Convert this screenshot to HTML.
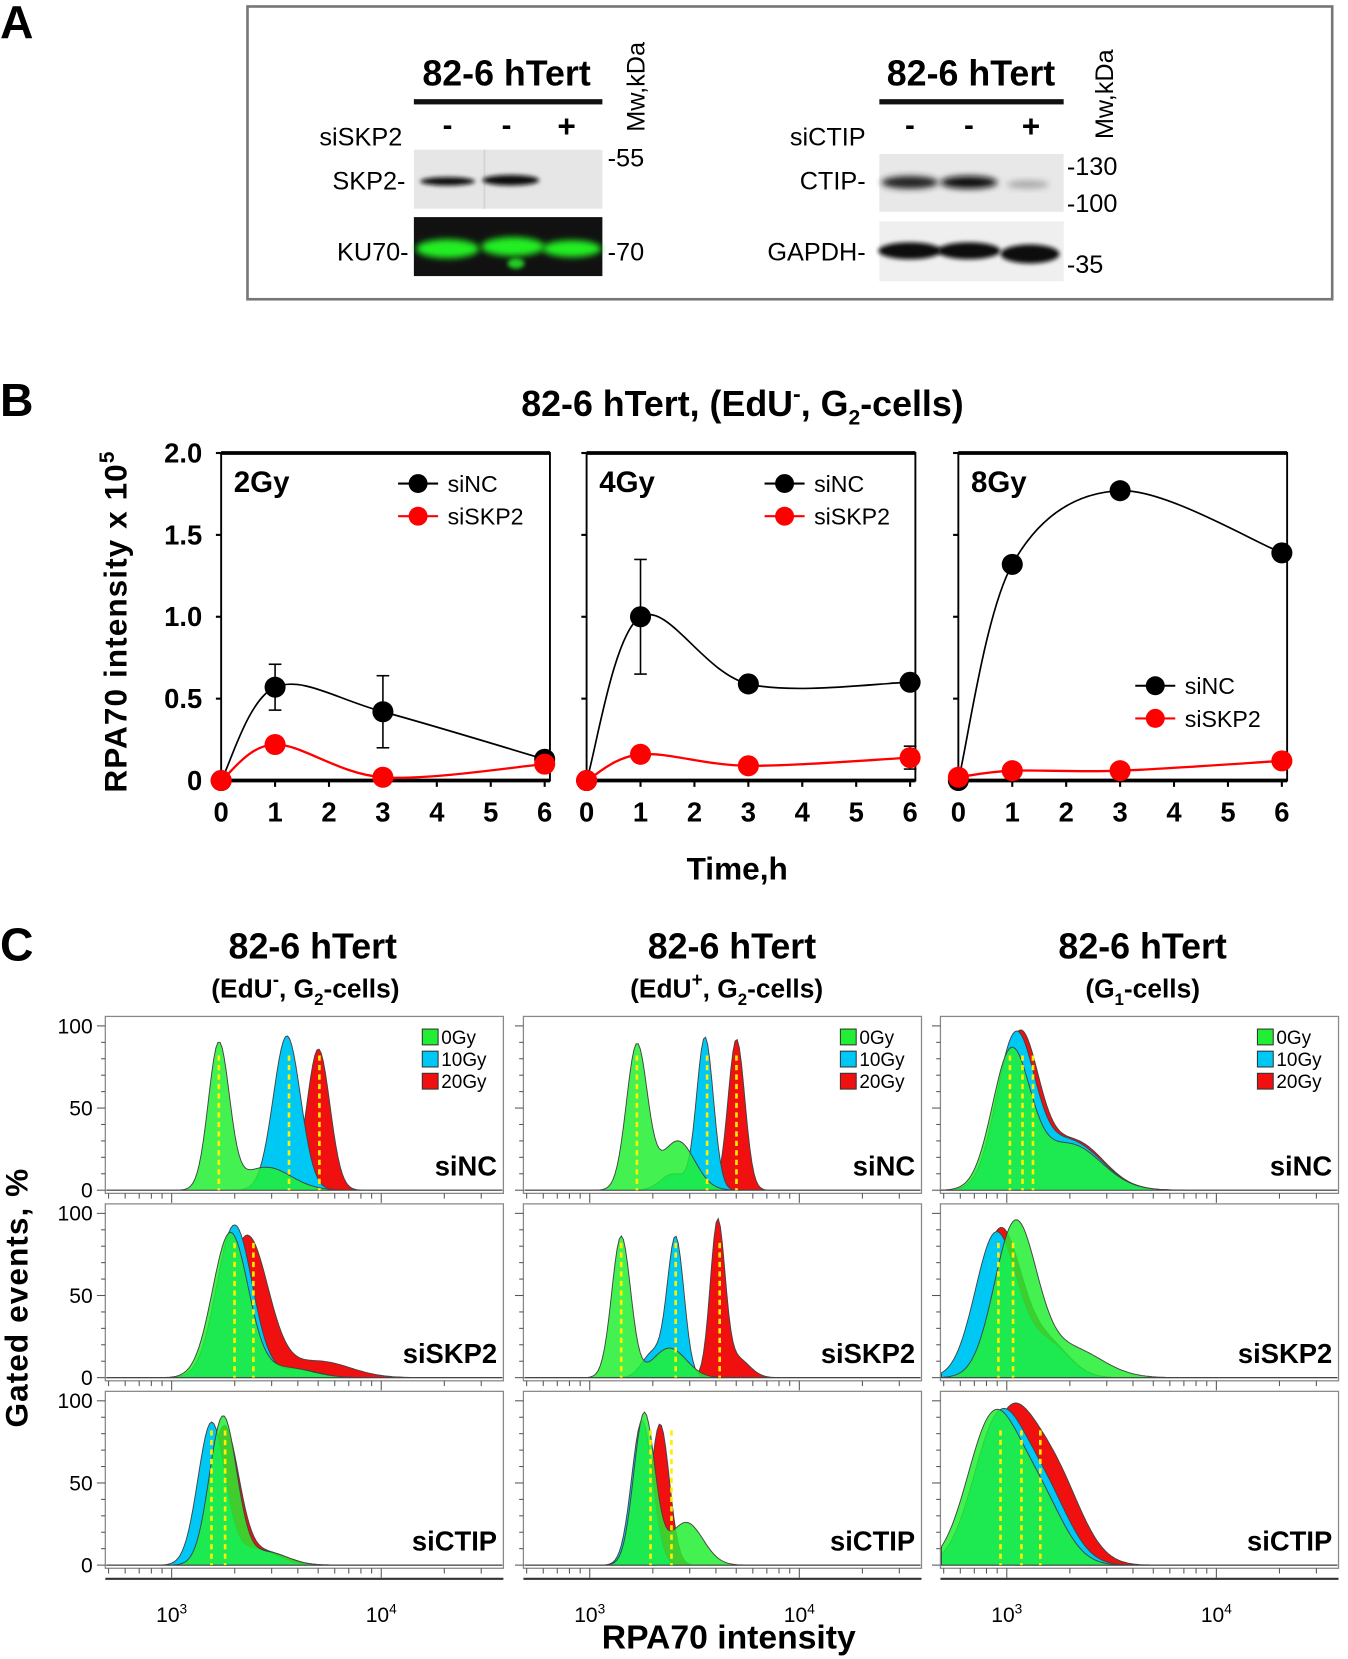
<!DOCTYPE html>
<html><head><meta charset="utf-8">
<style>
html,body{margin:0;padding:0;background:#fff;}
svg{display:block;font-family:"Liberation Sans",Arial,sans-serif;}
</style></head>
<body>
<svg id="fig" width="1348" height="1659" viewBox="0 0 1280 1575" xmlns="http://www.w3.org/2000/svg">
<defs>
<filter id="blur3" x="-20%" y="-50%" width="140%" height="200%"><feGaussianBlur stdDeviation="3"/></filter>
<filter id="blur2" x="-20%" y="-50%" width="140%" height="200%"><feGaussianBlur stdDeviation="2"/></filter>
</defs>
<!-- Panel A -->
<g>
<text x="0" y="36" font-size="44" font-weight="bold">A</text>
<rect x="235" y="6" width="1030" height="278" fill="none" stroke="#777" stroke-width="2.5"/>
<text x="481" y="81" font-size="34" font-weight="bold" text-anchor="middle">82-6 hTert</text>
<rect x="393" y="94" width="179" height="5" fill="#111"/>
<text transform="translate(612,125) rotate(-90)" font-size="24">Mw,kDa</text>
<text x="382" y="138" font-size="24" text-anchor="end">siSKP2</text>
<text x="425" y="128" font-size="28" font-weight="bold" text-anchor="middle">-</text>
<text x="481" y="128" font-size="28" font-weight="bold" text-anchor="middle">-</text>
<text x="538" y="130" font-size="30" font-weight="bold" text-anchor="middle">+</text>
<rect x="393" y="142" width="179" height="56" fill="#e6e6e6"/>
<line x1="460" y1="142" x2="460" y2="198" stroke="#d6d6d6" stroke-width="2"/>
<ellipse cx="425" cy="172" rx="26" ry="4" fill="#111" filter="url(#blur2)"/>
<ellipse cx="485" cy="171" rx="27" ry="5" fill="#111" filter="url(#blur2)"/>
<text x="385" y="180" font-size="24" text-anchor="end">SKP2-</text>
<text x="577" y="158" font-size="24">-55</text>
<rect x="393" y="206" width="179" height="56" fill="#111"/>
<ellipse cx="425" cy="236" rx="30" ry="9" fill="#22ee22" filter="url(#blur3)"/>
<ellipse cx="487" cy="234" rx="30" ry="9" fill="#22ee22" filter="url(#blur3)"/>
<ellipse cx="490" cy="250" rx="8" ry="5" fill="#22cc22" filter="url(#blur2)"/>
<ellipse cx="543" cy="236" rx="28" ry="8" fill="#22ee22" filter="url(#blur3)"/>
<text x="388" y="247" font-size="24" text-anchor="end">KU70-</text>
<text x="577" y="247" font-size="24">-70</text>

<text x="922" y="81" font-size="34" font-weight="bold" text-anchor="middle">82-6 hTert</text>
<rect x="835" y="94" width="175" height="5" fill="#111"/>
<text transform="translate(1057,132) rotate(-90)" font-size="24">Mw,kDa</text>
<text x="822" y="138" font-size="24" text-anchor="end">siCTIP</text>
<text x="864" y="128" font-size="28" font-weight="bold" text-anchor="middle">-</text>
<text x="920" y="128" font-size="28" font-weight="bold" text-anchor="middle">-</text>
<text x="979" y="130" font-size="30" font-weight="bold" text-anchor="middle">+</text>
<rect x="835" y="146" width="175" height="55" fill="#e8e8e8"/>
<ellipse cx="864" cy="173" rx="27" ry="6" fill="#222" filter="url(#blur3)"/>
<ellipse cx="920" cy="173" rx="27" ry="6" fill="#111" filter="url(#blur3)"/>
<ellipse cx="976" cy="175" rx="20" ry="4" fill="#aaa" filter="url(#blur3)"/>
<text x="822" y="180" font-size="24" text-anchor="end">CTIP-</text>
<text x="1013" y="166" font-size="24">-130</text>
<text x="1013" y="201" font-size="24">-100</text>
<rect x="835" y="210" width="175" height="57" fill="#efefef"/>
<ellipse cx="864" cy="238" rx="30" ry="8" fill="#111" filter="url(#blur2)"/>
<ellipse cx="920" cy="238" rx="30" ry="8" fill="#111" filter="url(#blur2)"/>
<ellipse cx="978" cy="241" rx="28" ry="9" fill="#111" filter="url(#blur2)"/>
<text x="822" y="247" font-size="24" text-anchor="end">GAPDH-</text>
<text x="1013" y="259" font-size="24">-35</text>
</g>

<!-- Panel B static text -->
<text x="0" y="395" font-size="44" font-weight="bold">B</text>
<text x="705" y="395" font-size="34" font-weight="bold" text-anchor="middle">82-6 hTert, (EdU<tspan dy="-14" font-size="22">-</tspan><tspan dy="14">, G</tspan><tspan dy="8" font-size="20">2</tspan><tspan dy="-8">-cells)</tspan></text>
<text transform="translate(120,590) rotate(-90)" font-size="30" font-weight="bold" text-anchor="middle" letter-spacing="1">RPA70 intensity x 10<tspan dy="-12" font-size="20">5</tspan></text>
<text x="700" y="835" font-size="30" font-weight="bold" text-anchor="middle">Time,h</text>
<g id="panelB"></g>

<!-- Panel C static text -->
<text x="0" y="912" font-size="44" font-weight="bold">C</text>
<text x="297" y="910" font-size="34" font-weight="bold" text-anchor="middle">82-6 hTert</text>
<text x="290" y="947" font-size="25" font-weight="bold" text-anchor="middle">(EdU<tspan dy="-11" font-size="18">-</tspan><tspan dy="11">, G</tspan><tspan dy="7" font-size="16">2</tspan><tspan dy="-7">-cells)</tspan></text>
<text x="695" y="910" font-size="34" font-weight="bold" text-anchor="middle">82-6 hTert</text>
<text x="690" y="947" font-size="25" font-weight="bold" text-anchor="middle">(EdU<tspan dy="-11" font-size="18">+</tspan><tspan dy="11">, G</tspan><tspan dy="7" font-size="16">2</tspan><tspan dy="-7">-cells)</tspan></text>
<text x="1085" y="910" font-size="34" font-weight="bold" text-anchor="middle">82-6 hTert</text>
<text x="1085" y="947" font-size="25" font-weight="bold" text-anchor="middle">(G<tspan dy="7" font-size="16">1</tspan><tspan dy="-7">-cells)</tspan></text>
<text transform="translate(26,1232) rotate(-90)" font-size="30" font-weight="bold" text-anchor="middle" letter-spacing="1">Gated events, %</text>
<text x="692" y="1565" font-size="32" font-weight="bold" text-anchor="middle">RPA70 intensity</text>
<g id="panelC"></g>
</svg>

<script>
// ===== Panel B data =====
const timesB = [0, 1, 3, 6];
const doseLabelsB = ["2Gy", "4Gy", "8Gy"];
const siNC_2Gy = [0, 0.57, 0.42, 0.13];
const siNC_2Gy_err = [0, 0.14, 0.22, 0.04];
const siSKP2_2Gy = [0, 0.22, 0.02, 0.10];
const siSKP2_2Gy_err = [0, 0, 0, 0.03];
const siNC_4Gy = [0, 1.00, 0.59, 0.60];
const siNC_4Gy_err = [0, 0.35, 0.04, 0.02];
const siSKP2_4Gy = [0, 0.16, 0.09, 0.14];
const siSKP2_4Gy_err = [0, 0, 0, 0.07];
const siNC_8Gy = [0, 1.32, 1.77, 1.39];
const siNC_8Gy_err = [0, 0, 0, 0];
const siSKP2_8Gy = [0.02, 0.06, 0.06, 0.12];
const siSKP2_8Gy_err = [0, 0, 0, 0];
const yTicksB = [0, 0.5, 1.0, 1.5, 2.0];
const yTickLabelsB = ["0", "0.5", "1.0", "1.5", "2.0"];
const xTicksB = [0, 1, 2, 3, 4, 5, 6];

// ===== Panel C data: histogram components [log10 center, log10 sigma, height %] =====
const rowLabelsC = ["siNC", "siSKP2", "siCTIP"];
const doseLegendC = ["0Gy", "10Gy", "20Gy"];
const c1r1_0 = [[3.225, 0.05, 88], [3.45, 0.12, 14]];
const c1r1_10 = [[3.55, 0.065, 94]];
const c1r1_20 = [[3.70, 0.055, 86]];
const c1r2_0 = [[3.28, 0.085, 88], [3.55, 0.12, 6]];
const c1r2_10 = [[3.30, 0.085, 93], [3.6, 0.1, 5]];
const c1r2_20 = [[3.36, 0.1, 86], [3.7, 0.15, 10]];
const c1r3_0 = [[3.245, 0.065, 90], [3.45, 0.1, 8]];
const c1r3_10 = [[3.19, 0.065, 86], [3.4, 0.1, 10]];
const c1r3_20 = [[3.25, 0.07, 84], [3.45, 0.1, 8]];
const c2r1_0 = [[3.225, 0.05, 88], [3.42, 0.08, 30]];
const c2r1_10 = [[3.55, 0.04, 93], [3.4, 0.06, 10]];
const c2r1_20 = [[3.70, 0.04, 92]];
const c2r2_0 = [[3.15, 0.045, 86], [3.38, 0.08, 18]];
const c2r2_10 = [[3.41, 0.04, 85], [3.30, 0.05, 15]];
const c2r2_20 = [[3.61, 0.035, 93], [3.7, 0.06, 12]];
const c2r3_0 = [[3.26, 0.05, 92], [3.46, 0.08, 26]];
const c2r3_10 = [[3.25, 0.05, 88]];
const c2r3_20 = [[3.335, 0.045, 86]];
const c3r1_0 = [[3.02, 0.09, 82], [3.3, 0.15, 28]];
const c3r1_10 = [[3.04, 0.09, 90], [3.3, 0.15, 30]];
const c3r1_20 = [[3.06, 0.09, 92], [3.32, 0.14, 30]];
const c3r2_0 = [[3.04, 0.1, 92], [3.3, 0.15, 18]];
const c3r2_10 = [[2.95, 0.1, 88], [3.2, 0.1, 20]];
const c3r2_20 = [[2.97, 0.1, 90], [3.2, 0.1, 20]];
const c3r3_0 = [[2.93, 0.12, 86], [3.15, 0.12, 40]];
const c3r3_10 = [[2.96, 0.12, 86], [3.18, 0.12, 42]];
const c3r3_20 = [[3.0, 0.12, 82], [3.22, 0.13, 55]];
const mediansC = [
  [[3.225, 3.56, 3.705], [3.30, 3.39], [3.19, 3.255]],
  [[3.225, 3.56, 3.70], [3.15, 3.41, 3.62], [3.29, 3.39]],
  [[3.015, 3.075, 3.125], [2.96, 3.03], [2.97, 3.07, 3.16]]
];
const xTickExpC = [3, 4];

const NS = "http://www.w3.org/2000/svg";
function mk(parent, tag, attrs, name, inter) {
  const el = document.createElementNS(NS, tag);
  for (const k in attrs) el.setAttribute(k, attrs[k]);
  
  
  parent.appendChild(el);
  return el;
}

// ===== Draw Panel B =====
const gB = document.getElementById('panelB');
const panelsB = [
  {x0: 210, nc: siNC_2Gy, ncE: siNC_2Gy_err, sk: siSKP2_2Gy, skE: siSKP2_2Gy_err, leg: [397, 459]},
  {x0: 557, nc: siNC_4Gy, ncE: siNC_4Gy_err, sk: siSKP2_4Gy, skE: siSKP2_4Gy_err, leg: [745, 459]},
  {x0: 910, nc: siNC_8Gy, ncE: siNC_8Gy_err, sk: siSKP2_8Gy, skE: siSKP2_8Gy_err, leg: [1097, 651]}
];
const yTopB = 430, yBotB = 741, yMaxB = 2.0, xUnitB = 51.2;
function yB(v) { return yBotB - v / yMaxB * (yBotB - yTopB); }
function splinePath(pts) {
  let d = `M${pts[0][0]},${pts[0][1]}`;
  for (let i = 0; i < pts.length - 1; i++) {
    const p0 = pts[Math.max(0, i - 1)], p1 = pts[i], p2 = pts[i + 1], p3 = pts[Math.min(pts.length - 1, i + 2)];
    const t = 1 / 3;
    const c1x = p1[0] + (p2[0] - p0[0]) * t / 2, c1y = p1[1] + (p2[1] - p0[1]) * t / 2;
    const c2x = p2[0] - (p3[0] - p1[0]) * t / 2, c2y = p2[1] - (p3[1] - p1[1]) * t / 2;
    d += ` C${c1x},${c1y} ${c2x},${c2y} ${p2[0]},${p2[1]}`;
  }
  return d;
}
panelsB.forEach((p, pi) => {
  const xB = t => p.x0 + t * xUnitB;
  const w = 6 * xUnitB + 5;
  const g = mk(gB, 'g', {}, 'panel-b-' + doseLabelsB[pi].toLowerCase(), false);
  mk(g, 'rect', {x: p.x0, y: yTopB, width: w, height: yBotB - yTopB, fill: 'none', stroke: '#000', 'stroke-width': 1.8}, 'plot-frame', false);
  mk(g, 'line', {x1: p.x0, y1: yTopB, x2: p.x0 + w, y2: yTopB, stroke: '#000', 'stroke-width': 3.5}, 'plot-top-border', false);
  mk(g, 'line', {x1: p.x0, y1: yBotB, x2: p.x0 + w, y2: yBotB, stroke: '#000', 'stroke-width': 3.5}, 'x-axis-line', false);
  yTicksB.forEach((v, i) => {
    mk(g, 'line', {x1: p.x0 - 5, y1: yB(v), x2: p.x0, y2: yB(v), stroke: '#000', 'stroke-width': 2}, 'y-tick', false);
    if (pi === 0) {
      const t = mk(g, 'text', {x: p.x0 - 18, y: yB(v) + 9, 'font-size': 26, 'font-weight': 'bold', 'text-anchor': 'end'}, 'y-tick-label', false);
      t.textContent = yTickLabelsB[i];
    }
  });
  xTicksB.forEach(t => {
    mk(g, 'line', {x1: xB(t), y1: yBotB, x2: xB(t), y2: yBotB + 6, stroke: '#000', 'stroke-width': 2}, 'x-tick', false);
    const tx = mk(g, 'text', {x: xB(t), y: 780, 'font-size': 26, 'font-weight': 'bold', 'text-anchor': 'middle'}, 'x-tick-label', false);
    tx.textContent = String(t);
  });
  const lab = mk(g, 'text', {x: p.x0 + 12, y: 467, 'font-size': 28, 'font-weight': 'bold'}, 'dose-label', false);
  lab.textContent = doseLabelsB[pi];
  [[p.nc, p.ncE, '#000', 'sinc', 1.6], [p.sk, p.skE, '#f00', 'siskp2', 2.2]].forEach(([vals, errs, col, nm, sw]) => {
    const pts = timesB.map((t, i) => [xB(t), yB(vals[i])]);
    mk(g, 'path', {d: splinePath(pts), fill: 'none', stroke: col, 'stroke-width': sw}, nm + '-line', false);
    timesB.forEach((t, i) => {
      if (errs[i] > 0) {
        const x = xB(t), y1 = yB(vals[i] + errs[i]), y2 = yB(vals[i] - errs[i]);
        mk(g, 'line', {x1: x, y1: y1, x2: x, y2: y2, stroke: '#000', 'stroke-width': 1.5}, nm + '-error-bar', false);
        mk(g, 'line', {x1: x - 6, y1: y1, x2: x + 6, y2: y1, stroke: '#000', 'stroke-width': 1.5}, nm + '-error-cap', false);
        mk(g, 'line', {x1: x - 6, y1: y2, x2: x + 6, y2: y2, stroke: '#000', 'stroke-width': 1.5}, nm + '-error-cap', false);
      }
      mk(g, 'circle', {cx: xB(t), cy: yB(vals[i]), r: 10, fill: col}, nm + '-point', false);
    });
  });
  [['siNC', '#000', 0], ['siSKP2', '#f00', 31]].forEach(([txt, col, dy]) => {
    const lx = p.leg[0], ly = p.leg[1] + dy;
    mk(g, 'line', {x1: lx - 19, y1: ly, x2: lx + 19, y2: ly, stroke: col, 'stroke-width': 2}, 'legend-line', false);
    mk(g, 'circle', {cx: lx, cy: ly, r: 9, fill: col}, 'legend-marker', false);
    const t = mk(g, 'text', {x: lx + 28, y: ly + 8, 'font-size': 22}, 'legend-entry', false);
    t.textContent = txt;
  });
});

// ===== Draw Panel C =====
const gC = document.getElementById('panelC');
const colsC = [100, 497, 893];
const rowsC = [965, 1143, 1321];
const panelW = 378, panelH = 168;
const decadePx = 199;
const tenCubedOffset = 63;
const histData = [
  [[c1r1_0, c1r1_10, c1r1_20], [c1r2_0, c1r2_10, c1r2_20], [c1r3_0, c1r3_10, c1r3_20]],
  [[c2r1_0, c2r1_10, c2r1_20], [c2r2_0, c2r2_10, c2r2_20], [c2r3_0, c2r3_10, c2r3_20]],
  [[c3r1_0, c3r1_10, c3r1_20], [c3r2_0, c3r2_10, c3r2_20], [c3r3_0, c3r3_10, c3r3_20]]
];
const fills = ['#22ee33', '#00c8f5', '#f01010'];
colsC.forEach((cx0, ci) => {
  const x3 = cx0 + tenCubedOffset;
  const xC = lg => x3 + (lg - 3) * decadePx;
  rowsC.forEach((ry0, ri) => {
    const g = mk(gC, 'g', {}, `histogram-col${ci + 1}-${rowLabelsC[ri].toLowerCase()}`, false);
    const y0 = ry0 + panelH - 3, y100 = ry0 + 9;
    const yC = v => y0 - v / 100 * (y0 - y100);
    mk(g, 'rect', {x: cx0, y: ry0, width: panelW, height: panelH, fill: '#fff', stroke: '#888', 'stroke-width': 1.2}, 'histogram-frame', false);
    [2, 1, 0].forEach(di => {
      const comps = histData[ci][ri][di];
      let d = '';
      for (let x = cx0 + 1; x <= cx0 + panelW - 1; x += 2) {
        const lg = 3 + (x - x3) / decadePx;
        let v = 0;
        comps.forEach(([m, s, h]) => { v += h * Math.exp(-0.5 * ((lg - m) / s) ** 2); });
        v = Math.min(v, 100);
        d += (d ? ' L' : 'M') + x + ',' + yC(v).toFixed(1);
      }
      d += ` L${cx0 + panelW - 1},${y0} L${cx0 + 1},${y0} Z`;
      mk(g, 'path', {d: d, fill: fills[di], 'fill-opacity': di === 0 ? 0.85 : 1, stroke: '#444', 'stroke-width': 0.9}, 'histogram-' + doseLegendC[di].toLowerCase(), false);
    });
    mediansC[ci][ri].forEach(m => {
      mk(g, 'line', {x1: xC(m), y1: yC(82), x2: xC(m), y2: y0, stroke: '#ffee00', 'stroke-width': 2.5, 'stroke-dasharray': '5,4'}, 'median-line', false);
    });
    for (let v = 0; v <= 100; v += 10) {
      const maj = v % 50 === 0;
      mk(g, 'line', {x1: cx0 - (maj ? 8 : 4), y1: yC(v), x2: cx0, y2: yC(v), stroke: '#555', 'stroke-width': 1}, 'y-tick', false);
      if (maj && ci === 0) {
        const t = mk(g, 'text', {x: cx0 - 12, y: yC(v) + 7, 'font-size': 20, 'text-anchor': 'end'}, 'y-tick-label', false);
        t.textContent = String(v);
      }
    }
    for (let e = 2; e <= 4; e++) {
      for (let k = 1; k <= 9; k++) {
        const x = xC(e + Math.log10(k));
        if (x < cx0 || x > cx0 + panelW) continue;
        mk(g, 'line', {x1: x, y1: ry0 + panelH, x2: x, y2: ry0 + panelH + (k === 1 ? 9 : 5), stroke: '#555', 'stroke-width': 1}, 'x-tick', false);
      }
    }
    const rl = mk(g, 'text', {x: cx0 + panelW - 6, y: ry0 + panelH - 17, 'font-size': 26, 'font-weight': 'bold', 'text-anchor': 'end'}, 'row-label', false);
    rl.textContent = rowLabelsC[ri];
    if (ri === 0) {
      doseLegendC.forEach((lbl, di) => {
        const lx = cx0 + panelW - 77, ly = ry0 + 12 + di * 21;
        mk(g, 'rect', {x: lx, y: ly, width: 15, height: 15, fill: fills[di], stroke: '#333', 'stroke-width': 1}, 'legend-swatch', false);
        const t = mk(g, 'text', {x: lx + 18, y: ly + 14, 'font-size': 18}, 'legend-entry', false);
        t.textContent = lbl;
      });
    }
    if (ri === 2) {
      xTickExpC.forEach(e => {
        const t = mk(g, 'text', {x: xC(e), y: 1540, 'font-size': 20, 'text-anchor': 'middle'}, 'x-tick-label', false);
        t.textContent = '10';
        const s = document.createElementNS(NS, 'tspan');
        s.setAttribute('dy', '-8');
        s.setAttribute('font-size', '13');
        s.textContent = String(e);
        t.appendChild(s);
      });
    }
  });
  mk(gC, 'line', {x1: cx0, y1: 1499, x2: cx0 + panelW, y2: 1499, stroke: '#333', 'stroke-width': 2}, 'x-axis-line', false);
});
</script>
</body></html>
